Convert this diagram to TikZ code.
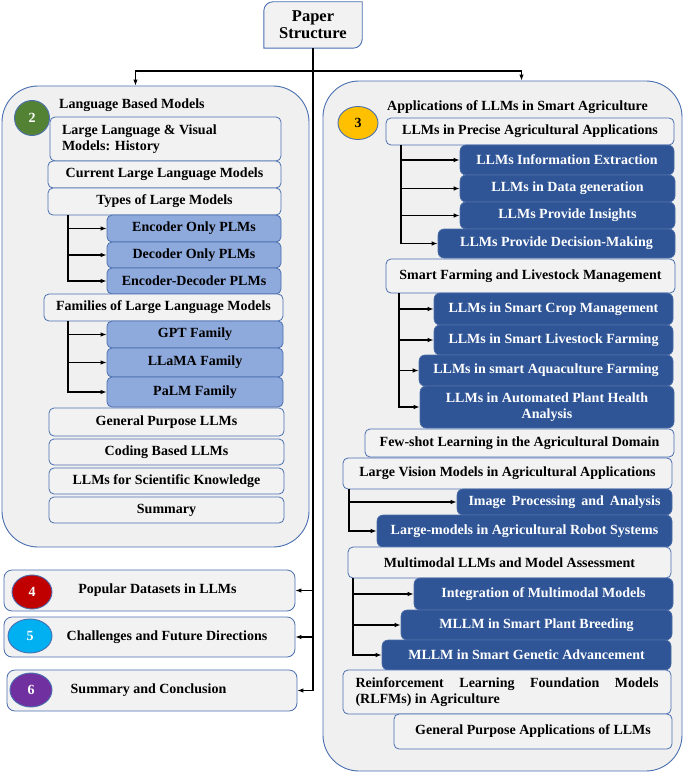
\documentclass[tikz,border=0pt]{standalone}
\usepackage{fontspec}
\setmainfont{Liberation Serif}
\usetikzlibrary{arrows.meta,shapes.geometric,backgrounds}
\definecolor{bordc}{HTML}{4A6FB0}
\definecolor{panelc}{HTML}{F0F0F0}
\definecolor{boxc}{HTML}{F2F2F2}
\definecolor{lblue}{HTML}{8EA9DB}
\definecolor{dblue}{HTML}{2F5597}
\definecolor{cgreen}{HTML}{548235}
\definecolor{cgold}{HTML}{FFC000}
\definecolor{cred}{HTML}{C00000}
\definecolor{ccyan}{HTML}{00B0F0}
\definecolor{cpurple}{HTML}{7030A0}
\newcommand\bx[7][]{\node[#1, minimum width={(#5-#3)*1pt}, minimum height={(#6-#4)*1pt}] (#2) at ({(#3+#5)/2},{(#4+#6)/2}) {#7};}
\begin{document}
\begin{tikzpicture}[x=1pt,y=-1pt,
  font=\fontsize{14}{16}\selectfont\bfseries,
  panel/.style={draw=bordc, fill=panelc, line width=0.9pt, rounded corners=36pt, inner sep=0pt},
  lbox/.style={draw=bordc, fill=boxc, line width=0.8pt, rounded corners=5pt, inner sep=0pt},
  obox/.style={draw=bordc, fill=boxc, line width=0.8pt, rounded corners=8pt, inner sep=0pt},
  bbox/.style={draw=bordc, fill=lblue, line width=0.8pt, rounded corners=5pt, inner sep=0pt},
  dbox/.style={draw=dblue!85!white, fill=dblue, text=white, line width=0.6pt, rounded corners=6pt, inner sep=0pt},
  num/.style={ellipse, draw=bordc, line width=0.9pt, text=white, inner sep=0pt},
  conn/.style={line width=1.1pt, black},
  arr/.style={conn, -{Latex[length=6pt,width=4.5pt]}}
]
\useasboundingbox (0,0) rectangle (685,773);

% ---------- top box ----------
\node[align=center, inner sep=0pt, minimum width=98pt, minimum height=46pt,
      font=\fontsize{16.5}{17}\selectfont\bfseries] (ps) at (313,25) {Paper\\Structure};
\begin{scope}[on background layer]
\draw[draw=bordc, fill=boxc, line width=0.9pt] (ps.south west) -- ([yshift=-9pt]ps.north west)
  arc[start angle=180, end angle=90, radius=9pt] -- (ps.north east)
  -- ([yshift=9pt]ps.south east) arc[start angle=0, end angle=-90, radius=9pt] -- cycle;
\end{scope}

% ---------- left panel ----------
\bx[panel]{lp}{2}{86}{309}{547}{}
\node[num, fill=cgreen, minimum width=35pt, minimum height=35pt] (n2) at (32,118) {2};
\node[anchor=west, inner sep=0pt] (t2) at (59,105) {Language Based Models};
\bx[lbox, align=flush left, text width=207pt]{l1}{50}{117}{281}{161}{Large Language \& Visual\\Models: History}
\bx[lbox]{l2}{48}{161}{281}{188}{Current Large Language Models}
\bx[lbox]{l3}{48}{188}{281}{215}{Types of Large Models}
\bx[bbox]{l3a}{107}{215}{281}{242}{Encoder Only PLMs}
\bx[bbox]{l3b}{107}{242}{281}{268}{Decoder Only PLMs}
\bx[bbox]{l3c}{107}{268}{281}{294}{Encoder-Decoder PLMs}
\bx[lbox]{l4}{44}{294}{283}{321}{Families of Large Language Models}
\bx[bbox]{l4a}{107}{321}{283}{348}{GPT Family}
\bx[bbox]{l4b}{107}{348}{283}{377}{LLaMA Family}
\bx[bbox]{l4c}{107}{377}{283}{407}{PaLM Family}
\bx[lbox]{l5}{49}{408}{284}{436}{General Purpose LLMs}
\bx[lbox]{l6}{49}{439}{284}{465}{Coding Based LLMs}
\bx[lbox]{l7}{49}{468}{284}{494}{LLMs for Scientific Knowledge}
\bx[lbox]{l8}{49}{497}{284}{523}{Summary}
\coordinate (k3) at (68,215);
\coordinate (k4) at (68,321);
\foreach \c in {l3a,l3b,l3c} \draw[arr] (k3) |- (\c.west);
\foreach \c in {l4a,l4b,l4c} \draw[arr] (k4) |- (\c.west);

% ---------- bottom-left boxes ----------
\bx[obox]{b4}{4}{570}{295}{611}{\hspace*{16pt}Popular Datasets in LLMs}
\bx[obox]{b5}{4}{617}{295}{657}{\hspace*{35pt}Challenges and Future Directions}
\bx[obox]{b6}{7}{670}{297}{711}{Summary and Conclusion\hspace*{7pt}}
\node[num, fill=cred, minimum width=40pt, minimum height=34pt] (n4) at (32,592) {4};
\node[num, fill=ccyan, minimum width=44pt, minimum height=34pt] (n5) at (30,636) {5};
\node[num, fill=cpurple, minimum width=42pt, minimum height=34pt] (n6) at (31,690) {6};

% ---------- right panel ----------
\bx[panel]{rp}{323}{81}{682}{771}{}
\node[num, fill=cgold, text=black, minimum width=40pt, minimum height=33pt] (n3) at (358,123) {3};
\node[anchor=west, inner sep=0pt] (t3) at (387,107) {Applications of LLMs in Smart Agriculture};
\bx[lbox]{r1}{386}{118}{674}{145}{LLMs in Precise Agricultural Applications}
\bx[dbox]{r1a}{460}{145}{674}{175}{LLMs Information Extraction}
\bx[dbox]{r1b}{460}{175}{675}{202}{LLMs in Data generation}
\bx[dbox]{r1c}{460}{202}{675}{229}{LLMs Provide Insights}
\bx[dbox]{r1d}{438}{229}{675}{258}{LLMs Provide Decision-Making}
\bx[lbox]{r2}{386}{259}{675}{293}{Smart Farming and Livestock Management}
\bx[dbox]{r2a}{434}{293}{673}{325}{LLMs in Smart Crop Management}
\bx[dbox]{r2b}{434}{325}{673}{355}{LLMs in Smart Livestock Farming}
\bx[dbox]{r2c}{419}{355}{673}{386}{LLMs in smart Aquaculture Farming}
\bx[dbox, align=center]{r2d}{420}{386}{674}{428}{LLMs in Automated Plant Health\\Analysis}
\bx[lbox]{r3}{365}{429}{674}{457}{Few-shot Learning in the Agricultural Domain}
\bx[lbox]{r4}{343}{458}{672}{489}{Large Vision Models in Agricultural Applications}
\bx[dbox]{r4a}{457}{489}{672}{515}{\makebox[192pt][s]{Image Processing and Analysis}}
\bx[dbox]{r4b}{377}{515}{672}{547}{Large-models in Agricultural Robot Systems}
\bx[lbox]{r5}{348}{547}{671}{578}{Multimodal LLMs and Model Assessment}
\bx[dbox]{r5a}{414}{578}{673}{610}{Integration of Multimodal Models}
\bx[dbox]{r5b}{401}{610}{672}{640}{MLLM in Smart Plant Breeding}
\bx[dbox]{r5c}{382}{640}{671}{670}{MLLM in Smart Genetic Advancement}
\bx[lbox, align=flush left, text width=303pt]{r6}{343}{670}{671}{714}{\makebox[303pt][s]{Reinforcement Learning Foundation Models}\\(RLFMs) in Agriculture}
\bx[lbox]{r7}{394}{714}{672}{749}{General Purpose Applications of LLMs}
\coordinate (q1) at (401,145);
\coordinate (q2) at (399,293);
\coordinate (q4) at (349,489);
\coordinate (q5) at (353,578);
\foreach \c in {r1a,r1b,r1c,r1d} \draw[arr] (q1) |- (\c.west);
\foreach \c in {r2a,r2b,r2c,r2d} \draw[arr] (q2) |- (\c.west);
\foreach \c in {r4a,r4b} \draw[arr] (q4) |- (\c.west);
\foreach \c in {r5a,r5b,r5c} \draw[arr] (q5) |- (\c.west);

% ---------- trunk ----------
\coordinate (j) at (313,71);
\draw[conn] (ps.south) -- (ps.south |- b6.east);
\draw[arr] (j) -| ([xshift=-20pt]lp.north);
\draw[arr] (j) -| ([xshift=19pt]rp.north);
\foreach \c in {b4,b5,b6} \draw[arr] (ps.south |- \c.east) -- (\c.east);
\end{tikzpicture}
\end{document}
